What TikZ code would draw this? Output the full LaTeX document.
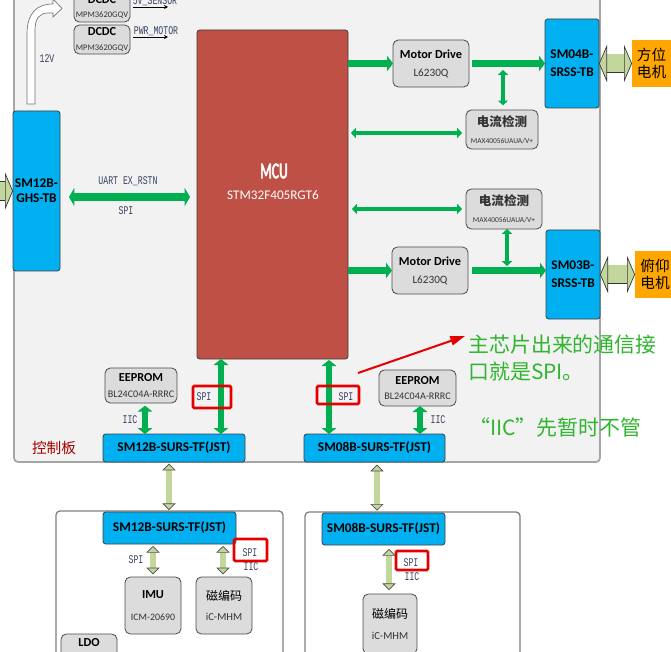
\documentclass[tikz,border=0pt]{standalone}
\usepackage{fontspec}
\usetikzlibrary{arrows.meta,calc}
\setmainfont{Carlito}
\newfontfamily\cjk{Noto Sans CJK SC}
\newfontfamily\labfont[FakeStretch=0.7]{Liberation Mono}
\newfontfamily\mcufont[FakeStretch=0.6,FakeBold=2.5]{Carlito}
\definecolor{gbar}{HTML}{00B050}
\definecolor{oliv}{HTML}{C3D69B}
\definecolor{bluebox}{HTML}{00B0F0}
\definecolor{graybox}{HTML}{DCDCDC}
\definecolor{mcured}{HTML}{BE5046}
\definecolor{anno}{HTML}{2FB52F}
\definecolor{labcol}{HTML}{3A4060}
\newcommand{\fs}[1]{\fontsize{#1}{#1}\selectfont}
\newcommand{\bx}[7]{%
  \pgfmathsetmacro\cxx{(#3+#5)/2}\pgfmathsetmacro\cyy{(#4+#6)/2}%
  \pgfmathsetmacro\www{(#5-#3)*0.75}\pgfmathsetmacro\hhh{(#6-#4)*0.75}%
  \node[#2,minimum width=\www pt,minimum height=\hhh pt] (#1) at (\cxx,\cyy) {#7};}
\newcommand{\twoln}[4]{{\bfseries\fs{9.2}#1}\\[#3]{\fs{#4}\color{black!80}#2}}
\newcommand{\curr}{{\cjk\bfseries\fs{9.4}\color{black!80}电流检测}\\[1pt]{\fs{5.6}\color{black!80}MAX40056UAUA/V+}}
\newcommand{\encd}{{\cjk\fs{9}磁编码}\\[3.5pt]{\fs{8}\color{black!80}iC-MHM}}
\tikzset{
  x=0.75pt,y=-0.75pt,
  gray/.style={draw=black!70,fill=graybox,line width=.6pt,rounded corners=4pt,inner sep=0pt,outer sep=0pt,align=center},
  blue/.style={draw=black!75,fill=bluebox,line width=.6pt,rounded corners=2pt,inner sep=0pt,outer sep=0pt,align=center,font=\bfseries\fs{10}},
  bluew/.style={blue,font=\bfseries\fs{10}},
  panel/.style={draw=black!35,line width=1.3pt,rounded corners=3pt,inner sep=0pt,outer sep=0pt},
  redbox/.style={draw=red!90!black,line width=2pt,rounded corners=1pt,inner sep=0pt,outer sep=0pt},
  orange/.style={fill=orange!70!yellow,inner sep=0pt,outer sep=0pt,align=center,font=\cjk\fs{11}},
  lab/.style={inner sep=0pt,text=labcol,font=\labfont\fs{8.8}},
  gbig/.style={gbar,line width=5.25pt,-{Triangle[length=4.5pt,width=11.5pt]}},
  gmid/.style={gbar,line width=4.2pt,{Triangle[length=4.5pt,width=11pt]}-{Triangle[length=4.5pt,width=11pt]}},
  gthin/.style={gbar,line width=2.6pt,{Triangle[length=3.6pt,width=7.5pt]}-{Triangle[length=3.6pt,width=7.5pt]}},
  oarrow/.style={draw=black!70,line width=.5pt,double=oliv,double distance=4.2pt,
    {Triangle[length=5pt,width=10pt,fill=oliv]}-{Triangle[length=5pt,width=10pt,fill=oliv]}},
  obig/.style={draw=black!80,line width=.5pt,double=oliv,double distance=13.5pt,
    {Triangle[length=6pt,width=28pt,fill=oliv]}-{Triangle[length=6pt,width=28pt,fill=oliv]}},
  annotxt/.style={inner sep=0pt,anchor=west,text=anno,font=\cjk\fs{15.7}},
}
\begin{document}
\begin{tikzpicture}
\useasboundingbox (0,0) rectangle (671,652);
\clip (0,0) rectangle (671,652);
\fill[white] (0,0) rectangle (671,652);
% panels
\bx{ctrl}{panel,fill=black!5}{14}{-8}{600}{462}{}
\bx{low1}{panel,fill=white,line width=1pt,draw=black!50}{56}{511}{283}{670}{}
\bx{low2}{panel,fill=white,line width=1pt,draw=black!50}{305}{512}{520}{670}{}
% DCDC
\bx{dc1}{gray}{74}{-8}{130}{22}{\twoln{DCDC}{MPM3620GQV}{-1pt}{6.4}}
\bx{dc2}{gray}{74}{25}{130}{54}{\twoln{DCDC}{MPM3620GQV}{-1pt}{6.4}}
% main blocks
\bx{mcu}{blue,fill=mcured}{197}{30}{348}{359}{}
\node[inner sep=0pt,text=white,font=\mcufont\fs{17}] (mcut) at (274,171) {MCU};
\node[inner sep=0pt,text=white,font=\fs{9.9}] (mcus) at (273,195) {STM32F405RGT6};
\bx{sml}{blue}{13}{111}{60}{271}{SM12B-\\[1pt]GHS-TB}
\bx{md1}{gray}{393}{40}{469}{87}{\twoln{Motor Drive}{L6230Q}{1.5pt}{8.4}}
\bx{md2}{gray}{392}{247}{468}{294}{\twoln{Motor Drive}{L6230Q}{1.5pt}{8.4}}
\bx{cur1}{gray}{466}{110}{538}{149}{\curr}
\bx{cur2}{gray}{466}{189}{542}{229}{\curr}
\bx{sm04}{blue}{545}{19}{599}{108}{SM04B-\\[3.5pt]SRSS-TB}
\bx{sm03}{blue}{546}{230}{600}{319}{SM03B-\\[3.5pt]SRSS-TB}
\bx{m1}{orange}{632}{40}{671}{87}{方位\\[2pt]电机}
\bx{m2}{orange}{635}{251}{675}{298}{俯仰\\[2pt]电机}
% bottom of control board
\bx{ee1}{gray}{105}{368}{177}{403}{\twoln{EEPROM}{BL24C04A-RRRC}{-.5pt}{7.6}}
\bx{ee2}{gray}{379}{370}{456}{406}{\twoln{EEPROM}{BL24C04A-RRRC}{-.5pt}{7.6}}
\bx{c12a}{bluew}{103}{434}{245}{462}{SM12B-SURS-TF(JST)}
\bx{c08a}{bluew}{304}{434}{445}{462}{SM08B-SURS-TF(JST)}
% sensor boards
\bx{c12b}{bluew}{103}{512}{236}{544}{SM12B-SURS-TF(JST)}
\bx{c08b}{bluew}{322}{513}{445}{545}{SM08B-SURS-TF(JST)}
\bx{imu}{gray}{125}{577}{181}{634}{{\bfseries\fs{9.2}IMU}\\[4pt]{\fs{7.4}\color{black!80}ICM-20690}}
\bx{enc1}{gray}{196}{577}{252}{634}{\encd}
\bx{enc2}{gray}{363}{594}{417}{654}{\encd}
\bx{ldo}{gray}{61}{634}{117}{680}{}
\node[inner sep=0pt,font=\bfseries\fs{9.2}] (ldot) at (89,643) {LDO};
% coordinates for free ends
\coordinate (inl) at (0,191);
\coordinate (b1) at (69,197);
\coordinate (b2) at (190,197);
\coordinate (a1) at (351,133);
\coordinate (a2) at (352,209);
\coordinate (j1) at (503,70);
\coordinate (j2) at (507,266);
\coordinate (s1) at (221,359);
\coordinate (s2) at (329,360);
\coordinate (e1) at (145,403);
\coordinate (e2) at (420,406);
\coordinate (o1) at (169,462);
\coordinate (o2) at (377,462);
\coordinate (v5) at (168,7);
\coordinate (vp) at (168,37);
\coordinate (t1) at (153,544);
\coordinate (t2) at (223,544);
\coordinate (t3) at (389,545);
\coordinate (n1) at (358,373);
\coordinate (n2) at (465,336);
% white 12V power arrow
\draw[draw=black!55,fill=white,line width=.5pt] (27,104) -- (27,34) .. controls (27,14) and (36,4) .. (53,4)
  -- (53,-1) -- (62,8.5) -- (53,17) -- (53,13) -- (48,13) .. controls (40,13) and (35,18) .. (35,30) -- (35,104) -- cycle;
% thick green arrows
\draw[gbig] (mcu.east |- md1.west) -- (md1.west);
\draw[gbig,shorten <=2.2pt] (md1.east) -- (sm04.west);
\draw[gbig] (mcu.east |- md2.west) -- (md2.west);
\draw[gbig,shorten <=3pt] (md2.east) -- (md2.east -| sm03.west);
\draw[gmid,line width=6pt,{Triangle[length=4pt,width=13.5pt]}-{Triangle[length=4pt,width=13.5pt]}] (b1) -- (b2);
\draw[gmid] (s1) -- (s1 |- c12a.north);
\draw[gmid] (s2) -- (s2 |- c08a.north);
\draw[gmid,shorten <=2pt] (e1) -- (e1 |- c12a.north);
\draw[gmid] (e2) -- (e2 |- c08a.north);
% thin green arrows
\draw[gthin,shorten >=3pt] (a1) -- (cur1.west |- a1);
\draw[gthin,shorten >=3pt] (a2) -- (cur2.west |- a2);
\draw[gthin,shorten >=3.5pt] (j1) -- (j1 |- cur1.north);
\draw[gthin] (j2 |- cur2.south) -- (j2);
% olive arrows
\draw[oarrow,shorten <=1.2pt,shorten >=1.5pt] (o1) -- (o1 |- c12b.north);
\draw[oarrow,shorten <=2pt,shorten >=1pt] (o2) -- (o2 |- low2.north);
\draw[oarrow,shorten <=1.5pt,shorten >=2pt] (t1) -- (t1 |- imu.north);
\draw[oarrow,shorten <=1.5pt,shorten >=2pt] (t2) -- (t2 |- enc1.north);
\draw[oarrow,shorten <=3pt,shorten >=3pt] (t3) -- (t3 |- enc2.north);
\draw[obig] (sm04.east) -- (m1.west);
\draw[obig] (sm03.east |- m2.west) -- (m2.west);
\draw[obig,-{Triangle[length=6pt,width=28pt,fill=oliv]}] (inl) -- (inl -| sml.west);
% power lines
\draw[black,line width=.5pt,-{Stealth[length=3pt,width=3pt]}] ($(dc1.east)+(3,0)$) -- (v5);
\draw[black,line width=.5pt,-{Stealth[length=3pt,width=3pt]}] ($(vp -| dc2.east)+(3,0)$) -- (vp);
% labels
\node[lab] (l5v) at (155,1) {5V\_SENSOR};
\node[lab] (lpm) at (156,31) {PWR\_MOTOR};
\node[lab] (l12) at (47,59) {12V};
\node[lab] (luart) at (128,181) {UART EX\_RSTN};
\node[lab] (lspi) at (126,211) {SPI};
\node[lab] (ls1) at (204,397) {SPI};
\node[lab] (ls2) at (346,397) {SPI};
\node[lab] (li1) at (130,420) {IIC};
\node[lab] (li2) at (438,420) {IIC};
\node[lab] (ls3) at (136,560) {SPI};
\node[lab] (ls4) at (250,553) {SPI};
\node[lab] (li3) at (251,567) {IIC};
\node[lab] (ls5) at (411,563) {SPI};
\node[lab] (li4) at (412,577) {IIC};
\node[inner sep=0pt,text=red!65!black,font=\cjk\fs{11}] (ctl) at (54,448) {控制板};
% red marks
\bx{r1}{redbox}{193}{386}{231}{408}{}
\bx{r2}{redbox}{317}{386}{359}{404}{}
\bx{r3}{redbox}{234}{539}{267}{561}{}
\bx{r4}{redbox}{396}{551}{428}{570}{}
\draw[red!90!black,line width=1.5pt,-{Triangle[length=11pt,width=7pt]}] (n1) -- (n2);
% annotation
\node[annotxt] (an1) at (468,345) {主芯片出来的通信接};
\node[annotxt] (an2) at (468,372) {口就是SPI。};
\node[annotxt] (an3) at (469,428) {“IIC”先暂时不管};
\end{tikzpicture}
\end{document}
